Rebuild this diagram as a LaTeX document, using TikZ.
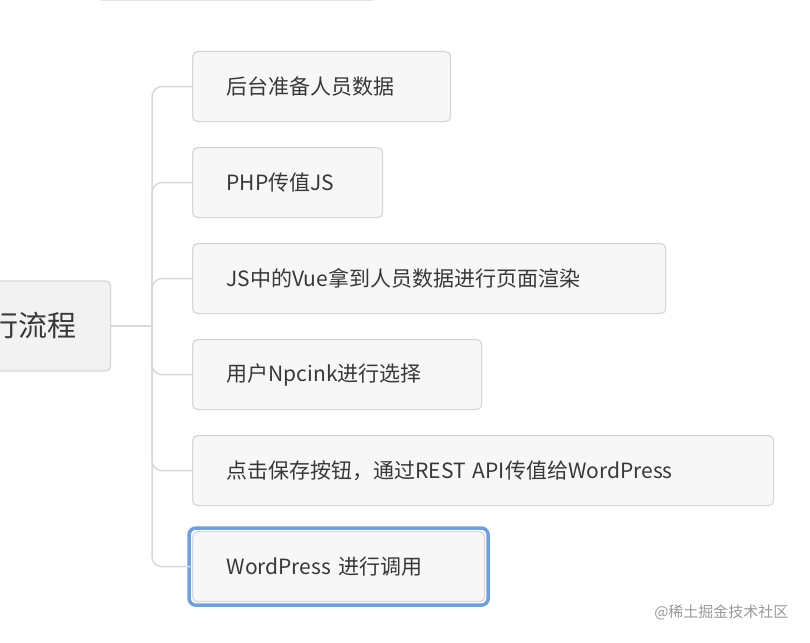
\documentclass[tikz,border=0pt]{standalone}
\usepackage{fontspec}
\setmainfont{Noto Sans CJK SC}
\begin{document}
\begin{tikzpicture}[x=1pt,y=-1pt,
  box/.style={draw=black!16,line width=1.2pt,fill=black!3,rounded corners=5pt,anchor=north west,inner sep=0pt,text=black!78,font=\fontsize{21}{24}\selectfont},
  conn/.style={draw=black!15,line width=1.5pt,rounded corners=10pt}]
\useasboundingbox (0,0) rectangle (810,642);
\clip (0,0) rectangle (810,642);
\fill[white] (0,0) rectangle (810,642);
\draw[box] (97,-40) rectangle (377,0);
\node[box,minimum width=184pt,minimum height=90pt,anchor=west,font=\fontsize{29}{32}\selectfont,fill=black!5] (root) at (-74,326) {执行流程};
\newcommand\kid[4]{\node[box,minimum width=#3pt,minimum height=70pt,text width=#3pt,align=left] (#1) at (#2) {\hspace*{34pt}#4};}
\kid{a}{192,51}{258}{后台准备人员数据}
\kid{b}{192,147}{190}{PHP传值JS}
\kid{c}{192,243}{473}{JS中的Vue拿到人员数据进行页面渲染}
\kid{d}{192,339}{289}{用户Npcink进行选择}
\kid{e}{192,435}{581}{点击保存按钮，通过REST API传值给WordPress}
\kid{f}{192,531}{292}{WordPress 进行调用}
\draw[color={rgb,255:red,110;green,160;blue,225},line width=3.5pt,rounded corners=7pt] ([shift={(-3,-3)}]f.north west) rectangle ([shift={(3,3)}]f.south east);
\coordinate (v) at (152,326);
\draw[conn] (root.east) -- (v);
\foreach \n in {a,b,c,d,e,f}{\draw[conn] (\n.west) -| (v);}
\node[anchor=east,text=black!40,font=\fontsize{15}{18}\selectfont] (wm) at (792,612) {@稀土掘金技术社区};
\end{tikzpicture}
\end{document}
